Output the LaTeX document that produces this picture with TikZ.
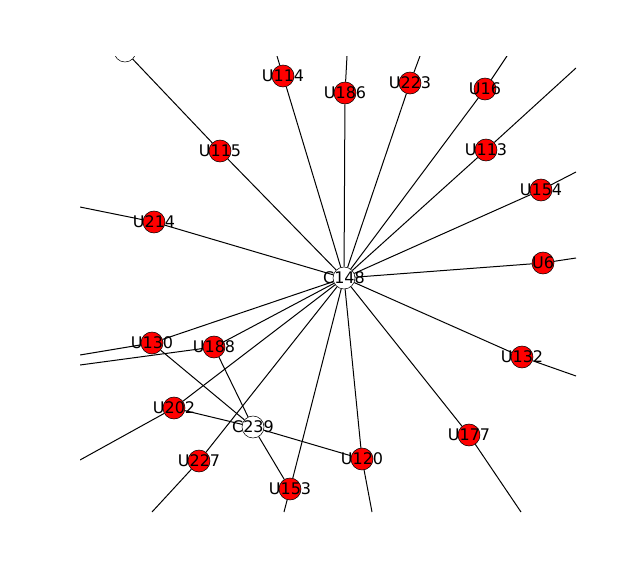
\documentclass[tikz,border=0pt]{standalone}
\usepackage{fontspec}
\setmainfont{DejaVu Sans}
\begin{document}
\begin{tikzpicture}[x=0.75pt,y=-0.75pt,
  rn/.style={circle,draw=black,fill=red,minimum size=16.5pt,inner sep=0pt},
  wn/.style={circle,draw=black,fill=white,minimum size=16.5pt,inner sep=0pt},
  lbl/.style={font=\fontsize{12}{13}\selectfont},
  ed/.style={draw=black,line width=0.75pt}]
\useasboundingbox (0,0) rectangle (640,568);
\begin{scope}
\clip (80,56) rectangle (576,512);
\coordinate (e1) at (277,56);
\coordinate (e2) at (347,56);
\coordinate (e3) at (420,56);
\coordinate (e4) at (507,56);
\coordinate (e5) at (576,68);
\coordinate (e6) at (576,172);
\coordinate (e7) at (576,258);
\coordinate (e8) at (576,376);
\coordinate (e9) at (521,512);
\coordinate (e10) at (372,512);
\coordinate (e11) at (284,512);
\coordinate (e12) at (152,512);
\coordinate (e13) at (80,460);
\coordinate (e14) at (80,355);
\coordinate (e15) at (80,365);
\coordinate (e16) at (80,207);
\node[wn] (C148) at (344,278) {};
\node[wn] (C239) at (253,427) {};
\foreach \n/\x/\y in {U114/283/76,U186/345/93,U223/410/83,U16/485/89,U113/486/150,U154/541/190,U6/543/263,U132/522/357,U177/469/435,U120/362/459,U153/290/489,U227/199/461,U202/174/408,U130/152/343,U188/214/347,U214/154/222,U115/220/151}
  \node[rn] (\n) at (\x,\y) {};
\coordinate (P) at (125,51);
\foreach \a/\b in {C148/U114,U114/e1,C148/U186,U186/e2,C148/U223,U223/e3,C148/U16,U16/e4,C148/U113,U113/e5,C148/U154,U154/e6,C148/U6,U6/e7,C148/U132,U132/e8,C148/U177,U177/e9,C148/U120,U120/e10,C148/U153,U153/e11,C148/U227,U227/e12,C148/U202,U202/e13,C148/U130,U130/e14,C148/U188,U188/e15,C148/U214,U214/e16,C148/U115,U115/P,U130/C239,U188/C239,U202/C239,C239/U120,C239/U153}
  \draw[ed] (\a) -- (\b);
\end{scope}
\begin{scope}
\clip (80,56) rectangle (576,70);
\node[wn] (Pn) at (125,51) {};
\end{scope}
\foreach \n/\x/\y in {C148/344/278,C239/253/427,U114/283/76,U186/345/93,U223/410/83,U16/485/89,U113/486/150,U154/541/190,U6/543/263,U132/522/357,U177/469/435,U120/362/459,U153/290/489,U227/199/461,U202/174/408,U130/152/343,U188/214/347,U214/154/222,U115/220/151}
  \node[lbl] (t\n) at (\x,\y) {\n};
\end{tikzpicture}
\end{document}
